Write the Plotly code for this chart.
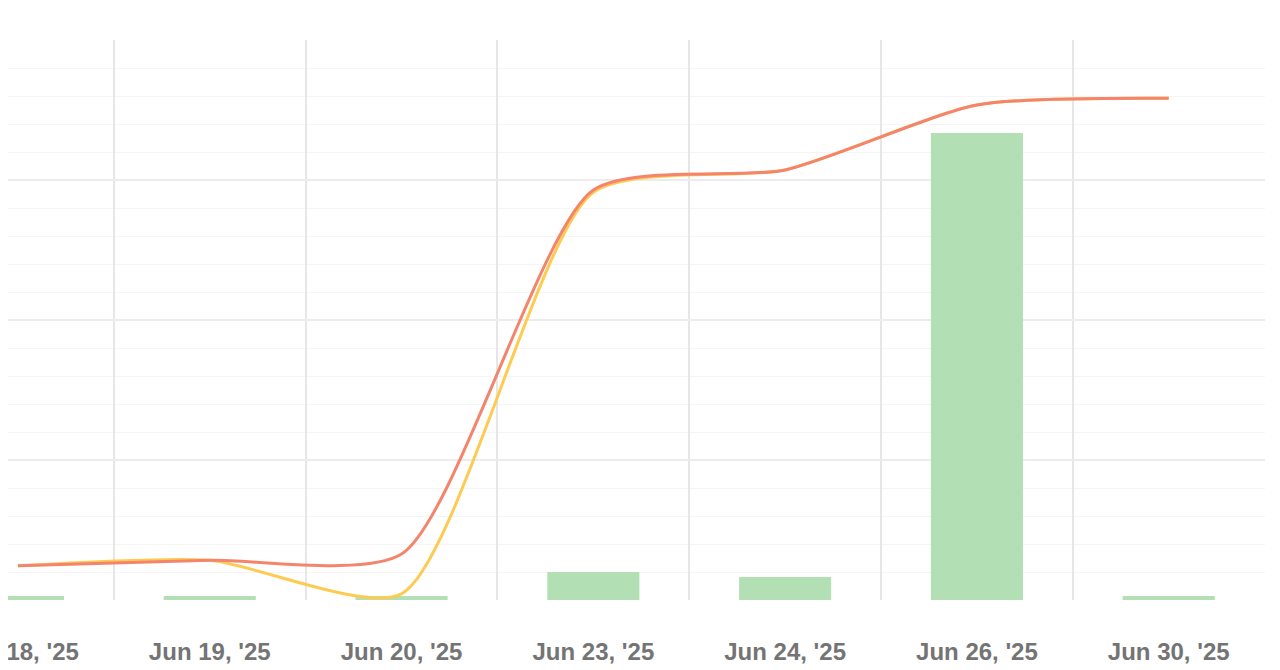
import plotly.graph_objects as go

dates = ["Jun 18, '25", "Jun 19, '25", "Jun 20, '25", "Jun 23, '25",
         "Jun 24, '25", "Jun 26, '25", "Jun 30, '25"]
bar_values = [0.7, 0.7, 0.7, 5.0, 4.1, 83.4, 0.7]
red_values = [6.1, 7.1, 8.2, 73.2, 76.8, 88.4, 89.6]
yellow_values = [6.1, 7.1, 1.1, 72.8, 76.8, 88.4, 89.6]

fig = go.Figure()
fig.add_trace(go.Bar(x=dates, y=bar_values, marker=dict(color="#b3dfb4", line=dict(width=0)),
                     showlegend=False))
fig.add_trace(go.Scatter(x=dates, y=yellow_values, mode="lines",
                         line=dict(color="#fecb52", width=3, shape="spline", smoothing=0.65),
                         showlegend=False))
fig.add_trace(go.Scatter(x=dates, y=red_values, mode="lines",
                         line=dict(color="#f4846c", width=3, shape="spline", smoothing=0.65),
                         showlegend=False))

fig.update_layout(
    width=1272, height=662,
    margin=dict(l=0, r=15, t=32, b=70),
    paper_bgcolor="white", plot_bgcolor="white",
    bargap=0.52,
    font=dict(family="Liberation Sans, Arial, sans-serif"),
)
fig.update_xaxes(
    type="category", range=[-0.052, 6.502], tickson="boundaries", automargin=False,
    showgrid=True, gridcolor="#e6e6e6", gridwidth=2,
    ticks="", ticklabelstandoff=35,
    tickfont=dict(size=24, color="#747474", family="Liberation Sans, Arial, sans-serif", weight="bold"),
    showline=False, zeroline=False,
)
fig.update_yaxes(
    range=[0, 100], dtick=25, showgrid=True, gridcolor="#ececec", gridwidth=2,
    showticklabels=False, zeroline=False, ticks="", automargin=False,
    minor=dict(dtick=5, showgrid=True, gridcolor="#f5f5f5", gridwidth=1),
)

fig.write_html("out.html")
